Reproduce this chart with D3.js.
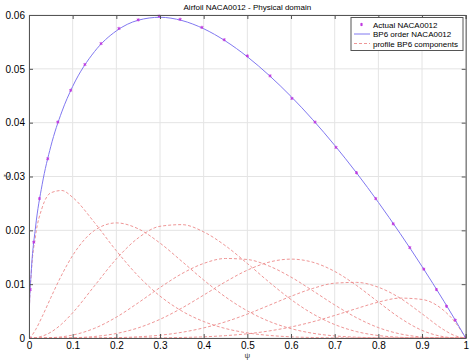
<!DOCTYPE html>
<html><head><meta charset="utf-8">
<script src="https://cdn.jsdelivr.net/npm/d3@7"></script>
<style>body{margin:0;background:#fff}svg{display:block;font-family:"Liberation Sans",Arial,sans-serif}</style>
</head><body><svg id="c" width="474" height="361"></svg>
<script>
// Sample positions along the chord (ψ)
const psi = [0, 0.001, 0.005, 0.015, 0.03, 0.05, 0.075, 0.1, 0.15, 0.2, 0.25, 0.3, 0.35, 0.4, 0.45, 0.5, 0.55, 0.6, 0.65, 0.7, 0.75, 0.8, 0.85, 0.9, 0.95, 0.975, 1];
// BP6 profile (sum of components)
const bp6 = [0, 0.00545, 0.01210, 0.02062, 0.02846, 0.03561, 0.04199, 0.04673, 0.05320, 0.05705, 0.05903, 0.05958, 0.05898, 0.05745, 0.05516, 0.05224, 0.04878, 0.04487, 0.04053, 0.03579, 0.03068, 0.02520, 0.01940, 0.01329, 0.00684, 0.00348, 0];
// Seven BP6 components
const comp0 = [0, 0.00542, 0.01179, 0.01903, 0.02417, 0.02697, 0.02740, 0.02612, 0.02144, 0.01620, 0.01153, 0.00779, 0.00501, 0.00306, 0.00176, 0.00095, 0.00048, 0.00022, 0.00009, 0.00003, 0.00001, 0, 0, 0, 0, 0, 0];
const comp1 = [0, 0.00003, 0.00031, 0.00153, 0.00395, 0.00750, 0.01173, 0.01533, 0.01998, 0.02138, 0.02029, 0.01763, 0.01424, 0.01077, 0.00762, 0.00504, 0.00309, 0.00174, 0.00088, 0.00039, 0.00015, 0.00004, 0.00001, 0, 0, 0, 0];
const comp2 = [0, 0, 0, 0.00006, 0.00034, 0.00108, 0.00261, 0.00468, 0.00969, 0.01468, 0.01858, 0.02075, 0.02106, 0.01971, 0.01713, 0.01384, 0.01037, 0.00715, 0.00448, 0.00250, 0.00119, 0.00046, 0.00013, 0.00002, 0, 0, 0];
const comp3 = [0, 0, 0, 0, 0.00001, 0.00006, 0.00022, 0.00055, 0.00180, 0.00387, 0.00653, 0.00937, 0.01195, 0.01385, 0.01477, 0.01458, 0.01336, 0.01131, 0.00877, 0.00614, 0.00377, 0.00193, 0.00076, 0.00018, 0.00001, 0, 0];
const comp4 = [0, 0, 0, 0, 0, 0, 0.00002, 0.00005, 0.00028, 0.00084, 0.00188, 0.00347, 0.00556, 0.00797, 0.01044, 0.01260, 0.01410, 0.01465, 0.01407, 0.01237, 0.00976, 0.00668, 0.00370, 0.00142, 0.00023, 0.00003, 0];
const comp5 = [0, 0, 0, 0, 0, 0, 0, 0, 0.00002, 0.00007, 0.00022, 0.00052, 0.00106, 0.00188, 0.00301, 0.00444, 0.00608, 0.00775, 0.00921, 0.01018, 0.01033, 0.00943, 0.00740, 0.00450, 0.00152, 0.00044, 0];
const comp6 = [0, 0, 0, 0, 0, 0, 0, 0, 0, 0, 0.00001, 0.00004, 0.00010, 0.00022, 0.00044, 0.00078, 0.00131, 0.00205, 0.00302, 0.00419, 0.00547, 0.00666, 0.00741, 0.00716, 0.00509, 0.00301, 0];
// Actual NACA0012 points
const actPsi  = [0, 0.003, 0.011, 0.024, 0.043, 0.066, 0.0955, 0.128, 0.165, 0.206, 0.250, 0.298, 0.346, 0.396, 0.447, 0.500, 0.552, 0.602, 0.655, 0.703, 0.750, 0.794, 0.834, 0.872, 0.904, 0.933, 0.956, 0.976, 1.0];
const actZeta = [0, 0.0090, 0.0178, 0.0259, 0.0333, 0.0401, 0.0460, 0.0508, 0.0547, 0.0575, 0.0591, 0.0598, 0.0592, 0.0577, 0.0554, 0.0524, 0.0487, 0.0445, 0.0401, 0.0354, 0.0307, 0.0259, 0.0212, 0.0168, 0.0128, 0.0090, 0.0059, 0.0033, 0.0];
const xTicks = [0, 0.1, 0.2, 0.3, 0.4, 0.5, 0.6, 0.7, 0.8, 0.9, 1];
const yTicks = [0, 0.01, 0.02, 0.03, 0.04, 0.05, 0.06];
const legendLabels = ["Actual NACA0012", "BP6 order NACA0012", "profile BP6 components"];

const L = 29, R = 465.7, T = 15, B = 338;
const svg = d3.select("#c");
const x = d3.scaleLinear().domain([0, 1]).range([L, R]);
const y = d3.scaleLinear().domain([0, 0.06]).range([B, T]);

// grid
svg.append("g").selectAll("line").data(xTicks).join("line")
  .attr("x1", d => x(d)).attr("x2", d => x(d)).attr("y1", T).attr("y2", B)
  .attr("stroke", "#e4e4e4").attr("stroke-width", 1);
svg.append("g").selectAll("line").data(yTicks).join("line")
  .attr("x1", L).attr("x2", R).attr("y1", d => y(d)).attr("y2", d => y(d))
  .attr("stroke", "#e4e4e4").attr("stroke-width", 1);

svg.append("defs").append("clipPath").attr("id", "clip")
  .append("rect").attr("x", L).attr("y", T - 2).attr("width", R - L).attr("height", B - T + 2);

const plot = svg.append("g").attr("clip-path", "url(#clip)");
const line = d3.line().x((d, i) => x(psi[i])).y(d => y(d)).curve(d3.curveMonotoneX);

[comp0, comp1, comp2, comp3, comp4, comp5, comp6].forEach(c => {
  plot.append("path").attr("d", line(c)).attr("fill", "none")
    .attr("stroke", "#ec8a8a").attr("stroke-width", 0.9).attr("stroke-dasharray", "3,2");
});
plot.append("path").attr("d", line(bp6)).attr("fill", "none")
  .attr("stroke", "#8078f0").attr("stroke-width", 1);

const star = d3.symbol(d3.symbolAsterisk, 7);
plot.selectAll(".pt").data(actPsi).join("path").attr("class", "pt")
  .attr("transform", (d, i) => `translate(${x(d)},${y(actZeta[i])})`)
  .attr("d", star).attr("fill", "none").attr("stroke", "#c03ae0").attr("stroke-width", 1);

// axes (box with inward ticks)
const fmt = d => d === 0 ? "0" : String(d);
const ax = svg.append("g").attr("font-size", "8px");
ax.append("g").attr("transform", `translate(0,${B})`)
  .call(d3.axisBottom(x).tickValues(xTicks).tickSize(-4).tickPadding(4).tickFormat(fmt));
ax.append("g").attr("transform", `translate(0,${T})`)
  .call(d3.axisTop(x).tickValues(xTicks).tickSize(-4).tickFormat(""));
ax.append("g").attr("transform", `translate(${L},0)`)
  .call(d3.axisLeft(y).tickValues(yTicks).tickSize(-4).tickPadding(4).tickFormat(fmt));
ax.append("g").attr("transform", `translate(${R},0)`)
  .call(d3.axisRight(y).tickValues(yTicks).tickSize(-4).tickFormat(""));
ax.selectAll(".domain").attr("stroke", "#555");
ax.selectAll(".tick line").attr("stroke", "#555");
ax.selectAll(".tick text").attr("fill", "#000").attr("font-family", "Liberation Sans, Arial, sans-serif");

// title and labels
svg.append("text").attr("x", (L + R) / 2).attr("y", 10).attr("text-anchor", "middle")
  .attr("font-size", "8px").text("Airfoil NACA0012 - Physical domain");
svg.append("text").attr("x", (L + R) / 2).attr("y", 358).attr("text-anchor", "middle")
  .attr("font-size", "8px").attr("fill", "#444").text("ψ");
svg.append("text").attr("transform", "translate(6,176) rotate(-90)").attr("text-anchor", "middle")
  .attr("dominant-baseline", "central")
  .attr("font-size", "8px").attr("fill", "#444").text("ζ");

// legend
const lg = svg.append("g");
lg.append("rect").attr("x", 351).attr("y", 17.5).attr("width", 112).attr("height", 33)
  .attr("fill", "#fff").attr("stroke", "#555").attr("stroke-width", 1);
const rowY = [24.5, 34, 43.5];
lg.append("path").attr("transform", `translate(361.5,${rowY[0]})`).attr("d", star)
  .attr("fill", "none").attr("stroke", "#c03ae0").attr("stroke-width", 1);
lg.append("line").attr("x1", 354).attr("x2", 370).attr("y1", rowY[1]).attr("y2", rowY[1])
  .attr("stroke", "#8078f0").attr("stroke-width", 1);
lg.append("line").attr("x1", 354).attr("x2", 370).attr("y1", rowY[2]).attr("y2", rowY[2])
  .attr("stroke", "#ec8a8a").attr("stroke-width", 0.9).attr("stroke-dasharray", "3,2");
lg.selectAll("text").data(legendLabels).join("text")
  .attr("x", 373).attr("y", (d, i) => rowY[i] + 3).attr("font-size", "8px").text(d => d);
</script></body></html>
